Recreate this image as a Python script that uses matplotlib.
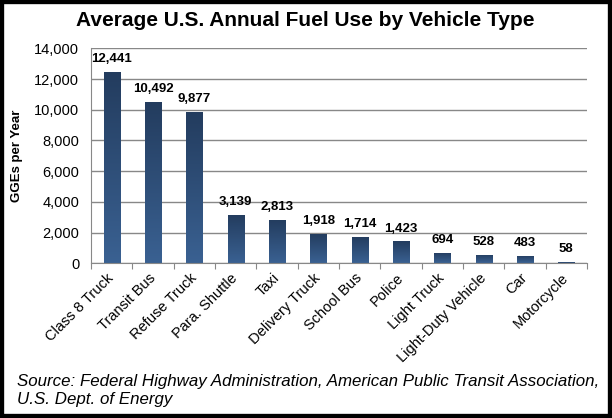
import matplotlib
matplotlib.use("Agg")
import matplotlib.pyplot as plt
import numpy as np
from matplotlib.patches import Rectangle
from matplotlib.colors import LinearSegmentedColormap

# data
vehicles = ["Class 8 Truck", "Transit Bus", "Refuse Truck", "Para. Shuttle", "Taxi",
            "Delivery Truck", "School Bus", "Police", "Light Truck", "Light-Duty Vehicle",
            "Car", "Motorcycle"]
gges = [12441, 10492, 9877, 3139, 2813, 1918, 1714, 1423, 694, 528, 483, 58]
y_ticks = [0, 2000, 4000, 6000, 8000, 10000, 12000, 14000]

plt.rcParams['font.family'] = ['Liberation Sans', 'DejaVu Sans']

W, H = 612, 418
fig = plt.figure(figsize=(W / 100, H / 100), dpi=100)
# plot area in pixels: x 91..587, y 48..263
ax = fig.add_axes([91 / W, 1 - 263.3 / H, 496 / W, 215 / H])

# gradient: dark navy at the top of each bar, lighter blue at the bottom
grad = LinearSegmentedColormap.from_list("bar", ["#3a6192", "#233c5e"])
x = np.arange(len(vehicles))
bars = ax.bar(x, gges, width=0.39, color="none", edgecolor="none", zorder=2)
for b in bars:
    x0, y0 = b.get_x(), b.get_y()
    w, h = b.get_width(), b.get_height()
    im = ax.imshow(np.linspace(0, 1, 256).reshape(-1, 1), cmap=grad, aspect="auto",
                   origin="lower", extent=[x0, x0 + w, y0, y0 + h], zorder=2)
    im.set_clip_path(b)

for xi, v in zip(x, gges):
    ax.annotate(f"{v:,}", (xi, v), xytext=(0, 5), textcoords="offset points",
                ha="center", va="bottom", fontsize=9.5, fontweight="bold", zorder=3)

ax.set_xlim(-0.5, len(vehicles) - 0.5)
ax.set_ylim(0, 14000)
ax.set_yticks(y_ticks)
ax.set_yticklabels([f"{t:,}" for t in y_ticks], fontsize=10.5)
ax.yaxis.grid(True, color="#888888", linewidth=1)
ax.set_axisbelow(True)
ax.tick_params(axis="y", length=0, pad=8.5)

# x ticks between categories, labels centred under bars
ax.set_xticks(np.arange(-0.5, len(vehicles)), minor=False)
ax.set_xticklabels([])
ax.set_xticks(x, minor=True)
ax.set_xticklabels(vehicles, minor=True, rotation=45, ha="right", va="center",
                   rotation_mode="anchor", fontsize=10.5)
ax.tick_params(axis="x", which="major", length=4, color="#888888")
ax.tick_params(axis="x", which="minor", length=0, pad=9)

for s in ["top", "right"]:
    ax.spines[s].set_visible(False)
ax.spines["left"].set_color("#888888")
ax.spines["bottom"].set_color("#888888")

ax.set_ylabel("GGEs per Year", fontsize=9.5, fontweight="bold")
ax.yaxis.set_label_coords(-(91 - 23) / 496, 0.5)

fig.text(305 / W, 1 - 25.5 / H, "Average U.S. Annual Fuel Use by Vehicle Type",
         ha="center", va="baseline", fontsize=15, fontweight="bold")
fig.text(17 / W, 1 - 386 / H,
         "Source: Federal Highway Administration, American Public Transit Association,",
         ha="left", va="baseline", fontsize=12.2, style="italic")
fig.text(17 / W, 1 - 404 / H, "U.S. Dept. of Energy",
         ha="left", va="baseline", fontsize=12.2, style="italic")

fig.patches.append(Rectangle((0, 0), 1, 1, transform=fig.transFigure, fill=False,
                             edgecolor="black", linewidth=6))

fig.savefig("out.png", dpi=100)
